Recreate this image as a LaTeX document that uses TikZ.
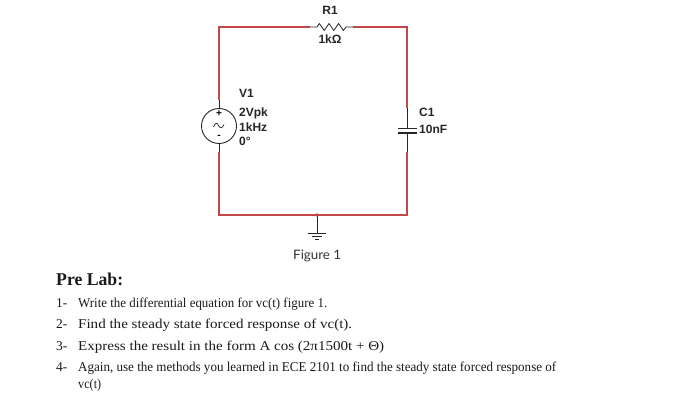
\documentclass[tikz,border=0pt]{standalone}
\usepackage{fontspec}
\usepackage{graphicx}
\setmainfont{Liberation Serif}
\setsansfont{Liberation Sans}
\newfontfamily\figfont{Lato}
\newcommand{\fitw}[2]{\resizebox{#1pt}{\height}{#2}}
\definecolor{wirered}{HTML}{C4474A}
\definecolor{txt}{HTML}{1A1A1A}
\tikzset{
  wire/.style={draw=wirered,line width=1.1pt},
  lead/.style={draw=black!85,line width=0.8pt},
  lbl/.style={inner sep=0,anchor=base west,font=\sffamily\bfseries\fontsize{12}{14}\selectfont,text=black!85},
  lblc/.style={lbl,anchor=base},
  body/.style={inner sep=0,anchor=base west,font=\fontsize{13.5}{15}\selectfont,text=txt},
}
\begin{document}
\begin{tikzpicture}[x=1pt,y=-1pt]
\useasboundingbox (0,0) rectangle (700,417);
% corners and terminals
\coordinate (tl) at (219,27);
\coordinate (tr) at (407,27);
\coordinate (bl) at (219,215);
\coordinate (br) at (407,215);
\coordinate (rl) at (310,27);
\coordinate (rr) at (353,27);
\coordinate (rla) at (317,27);
\coordinate (rra) at (346,27);
\coordinate (vt) at (219,100);
\coordinate (vb) at (219,152);
\coordinate (ct) at (407,108);
\coordinate (cb) at (407,152);
\coordinate (cpt) at (407,128.5);
\coordinate (cpb) at (407,133);
\coordinate (j) at (317,215);
\coordinate (g) at (317,233);
% wires
\draw[wire] (vt) -- (tl) -- (rl);
\draw[wire] (rr) -- (tr) -- (ct);
\draw[wire] (cb) -- (br) -- (bl) -- (vb);
% resistor
\draw[lead,line join=round] (rl) -- (rla) -- ++(2.4,-3.5) -- ++(4.8,7) -- ++(4.8,-7) -- ++(4.8,7) -- ++(4.8,-7) -- ++(4.8,7) -- (rra) -- (rr);
% source
\node[circle,draw=black!85,line width=0.9pt,minimum size=35pt,inner sep=0] (src) at (219,126) {};
\draw[lead] (vt) -- (src.north);
\draw[lead] (src.south) -- (vb);
\node[inner sep=0,font=\sffamily\bfseries\fontsize{10}{10}\selectfont] (plus) at (219,114) {+};
\node[inner sep=0,font=\sffamily\bfseries\fontsize{10}{10}\selectfont] (minus) at (219,137) {-};
\draw[lead,line width=0.7pt] (213.5,127) .. controls (215.5,122) and (217,122.5) .. (218.5,125.5) .. controls (220,128.5) and (222,129) .. (224,124.5);
% capacitor
\draw[lead] (ct) -- (cpt);
\draw[lead] (cpb) -- (cb);
\draw[lead,line width=1.1pt] (398,128.5) -- (417,128.5);
\draw[lead,line width=1.1pt] (398,133) -- (417,133);
% ground
\draw[lead] (j) -- (g);
\draw[lead] (308,233) -- (326,233);
\draw[lead] (312,236.5) -- (322,236.5);
\draw[lead] (315,239.5) -- (319,239.5);
\fill[wirered] (j) circle (1.9pt);
% circuit labels
\node[lblc] (r1) at (330,15) {R1};
\node[lblc] (r1v) at (330,44) {1kΩ};
\node[lbl] (v1) at (239,98) {V1};
\node[lbl] (v2) at (239,117) {2Vpk};
\node[lbl] (v3) at (239,131) {1kHz};
\node[lbl] (v4) at (239,145) {0°};
\node[lbl] (c1) at (419,117) {C1};
\node[lbl] (c2) at (419,133) {10nF};
\node[inner sep=0,anchor=base west,font=\figfont\fontsize{13}{15}\selectfont,text=black!80] (fig) at (293,259) {\fitw{48}{Figure 1}};
% text
\node[inner sep=0,anchor=base west,font=\bfseries\fontsize{18}{20}\selectfont,text=txt] (pre) at (56,285) {\fitw{67}{Pre Lab:}};
\node[body] (n1) at (56,307) {1-};
\node[body] (t1) at (78,307) {\fitw{249}{Write the differential equation for vc(t) figure 1.}};
\node[body] (n2) at (56,328.5) {2-};
\node[body] (t2) at (78,328.5) {\fitw{274}{Find the steady state forced response of vc(t).}};
\node[body] (n3) at (56,350) {3-};
\node[body] (t3) at (78,350) {\fitw{306}{Express the result in the form A cos (2π1500t + Θ)}};
\node[body] (n4) at (56,371.5) {4-};
\node[body] (t4) at (78,371.5) {\fitw{478}{Again, use the methods you learned in ECE 2101 to find the steady state forced response of}};
\node[body] (t5) at (78,388.5) {\fitw{23}{vc(t)}};
\end{tikzpicture}
\end{document}
